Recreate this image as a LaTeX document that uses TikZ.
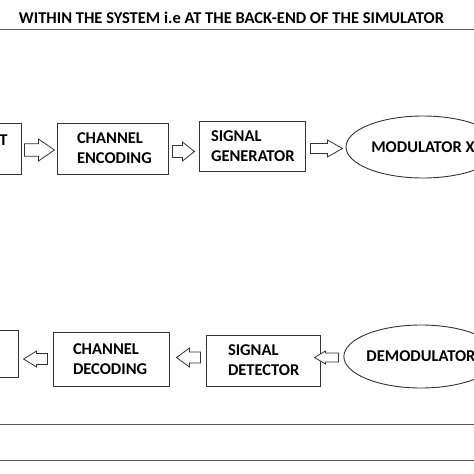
\documentclass[tikz,border=0pt]{standalone}
\usepackage{fontspec}
\setmainfont{Carlito}
\usetikzlibrary{shapes.geometric,calc}
\newcommand\blkarrow[5]{\draw[blk] (#1) ++(0,-#4) -- ++(#2-#3,0) -- ++(0,#4-#5) -- ++(#3,#5) -- ++(-#3,#5) -- ++(0,#4-#5) -- ++(-#2+#3,0) -- cycle;}
\begin{document}
\begin{tikzpicture}[x=1pt,y=-1pt,
  lbl/.style={font=\bfseries\fontsize{16.5}{20}\selectfont},
  box/.style={lbl, draw=black!80, line width=0.9pt, inner sep=0pt, align=left},
  oval/.style={lbl, ellipse, draw=black!80, line width=0.9pt, inner sep=0pt},
  blk/.style={draw=black!80, line width=0.8pt, fill=white},
  rulel/.style={draw=black!65, line width=1.2pt}]
\useasboundingbox (0,0) rectangle (474,474);
\clip (0,0) rectangle (474,474);
% title and rules
\node[font=\bfseries\fontsize{16.5}{20}\selectfont] (title) at (231.5,18) {WITHIN THE SYSTEM i.e AT THE BACK-END OF THE SIMULATOR};
\draw[rulel] (0,29.5) -- (474,29.5);
\draw[rulel] (0,424.5) -- (474,424.5);
\draw[rulel] (0,460.5) -- (474,460.5);
% top row
\node[box, minimum width=81pt, minimum height=51pt] (b0) at (-19.5,148.5) {};
\node[lbl] (t0) at (3.5,140) {T};
\node[box, minimum width=111pt, minimum height=51pt, text width=71pt] (enc) at (112.5,148.5) {CHANNEL\\ENCODING};
\node[box, minimum width=106pt, minimum height=50pt, text width=82pt] (gen) at (252,146.5) {SIGNAL\\GENERATOR};
\node[oval, minimum width=154pt, minimum height=62pt] (mod) at (423,147) {MODULATOR X};
\blkarrow{$(b0.east)+(3,1.5)$}{30}{16}{6.3}{11}
\blkarrow{$(enc.east)+(4,3)$}{22}{12}{6}{9.5}
\blkarrow{$(gen.east)+(5,2)$}{32}{15}{5}{8.5}
% bottom row
\node[box, minimum width=78pt, minimum height=47pt] (c0) at (-21,353.5) {};
\node[box, minimum width=116pt, minimum height=54pt, text width=76pt] (dec) at (111,359) {CHANNEL\\DECODING};
\node[box, minimum width=114pt, minimum height=51pt, text width=70pt] (det) at (263,360.5) {SIGNAL\\DETECTOR};
\node[oval, minimum width=138pt, minimum height=63pt] (demod) at (421,356.5) {DEMODULATOR};
\blkarrow{$(dec.west)+(-5,0)$}{-24}{-13}{5.5}{8}
\blkarrow{$(det.west)+(-5,-3)$}{-24}{-13}{5.5}{9.5}
\blkarrow{$(demod.west)+(-5,1)$}{-24}{-11}{4.5}{6.5}
\end{tikzpicture}
\end{document}
